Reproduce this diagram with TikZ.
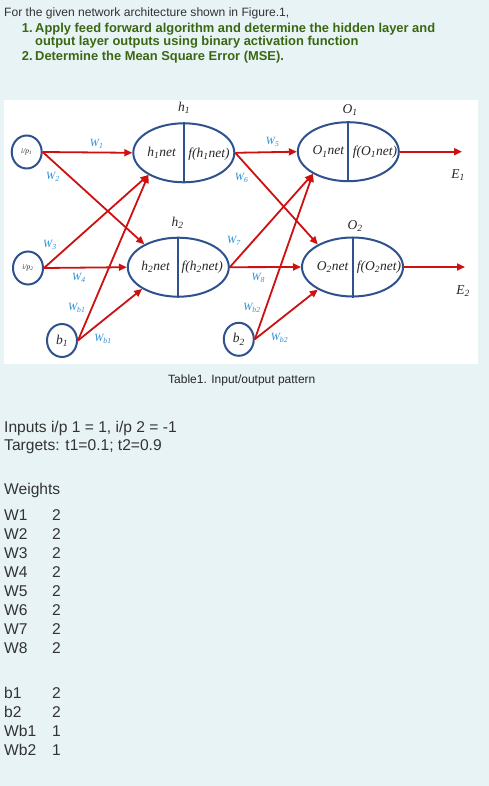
\documentclass[tikz,border=0pt]{standalone}
\usepackage{fontspec}
\setmainfont{Liberation Sans}
\newfontfamily\serifit{Liberation Serif}
\usetikzlibrary{shapes.geometric,arrows.meta}
\definecolor{bgblue}{RGB}{232,243,246}
\definecolor{nodeblue}{RGB}{47,82,143}
\definecolor{arrowred}{RGB}{205,16,16}
\definecolor{wblue}{RGB}{45,145,215}
\definecolor{hdgreen}{RGB}{58,104,18}
\definecolor{txtgray}{RGB}{51,51,51}
\begin{document}
\begin{tikzpicture}[x=1pt,y=-1pt,
  unit/.style={draw=nodeblue, line width=2pt, ellipse, minimum width=101pt, minimum height=59pt, inner sep=0pt},
  smallunit/.style={draw=nodeblue, line width=2pt, ellipse, minimum width=30pt, minimum height=33pt, inner sep=0pt},
  conn/.style={draw=arrowred, line width=1.8pt, -{Triangle[length=8pt,width=7pt]}},
  wlab/.style={text=wblue, font=\serifit\itshape\fontsize{11}{12}\selectfont, inner sep=0pt},
  ilab/.style={font=\serifit\itshape\fontsize{13.5}{15}\selectfont, inner sep=0pt, text=black!85},
  tinylab/.style={font=\serifit\itshape\fontsize{7.5}{9}\selectfont, inner sep=0pt, text=black!80},
  hdr/.style={anchor=base west, inner sep=0pt, text=txtgray, font=\fontsize{12.1}{14}\selectfont},
  hdb/.style={anchor=base west, inner sep=0pt, text=hdgreen, font=\bfseries\fontsize{12.9}{15}\selectfont},
  body/.style={anchor=base west, inner sep=0pt, text=txtgray, font=\fontsize{15.6}{18}\selectfont},
  divider/.style={draw=nodeblue, line width=2pt}
]
\useasboundingbox (0,0) rectangle (489,786);
\fill[bgblue] (0,0) rectangle (489,786);
\fill[white] (4,100) rectangle (478,363.5);

% header
\node[hdr] (t0) at (4,16.7) {For the given network architecture shown in Figure.1,};
\node[hdb] (n1) at (21.7,32.3) {1.};
\node[hdb] (t1) at (35,32.3) {Apply feed forward algorithm and determine the hidden layer and};
\node[hdb] (t2) at (35,45.7) {output layer outputs using binary activation function};
\node[hdb] (n2) at (21.7,60.7) {2.};
\node[hdb] (t3) at (35,60.7) {Determine the Mean Square Error (MSE).};

% nodes
\node[smallunit] (ip1) at (26.7,152) {};
\node[smallunit] (ip2) at (28,268) {};
\node[smallunit] (b1) at (62,340.5) {};
\node[smallunit] (b2) at (238.8,339.3) {};
\node[tinylab] (ip1t) at (ip1) {i/p\textsubscript{1}};
\node[tinylab] (ip2t) at (ip2) {i/p\textsubscript{2}};
\node[ilab] (b1t) at (b1) {b\textsubscript{1}};
\node[ilab] (b2t) at (b2) {b\textsubscript{2}};

\node[unit] (h1) at (183.8,152.8) {};
\node[unit] (h2) at (178.3,267.2) {};
\node[unit] (o1) at (348.3,151.7) {};
\node[unit] (o2) at (352.5,267) {};
\draw[divider] (h1.north) -- (h1.south);
\draw[divider] (h2.north) -- (h2.south);
\draw[divider] (o1.north) -- (o1.south);
\draw[divider] (o2.north) -- (o2.south);

\node[ilab] (h1a) at (161.7,153) {h\textsubscript{1}net};
\node[ilab] (h1b) at (209,154) {f(h\textsubscript{1}net)};
\node[ilab] (h2a) at (155.7,266.7) {h\textsubscript{2}net};
\node[ilab] (h2b) at (202.3,267.5) {f(h\textsubscript{2}net)};
\node[ilab] (o1a) at (328.3,151.5) {O\textsubscript{1}net};
\node[ilab] (o1b) at (375,152) {f(O\textsubscript{1}net)};
\node[ilab] (o2a) at (332.7,266.7) {O\textsubscript{2}net};
\node[ilab] (o2b) at (379,267.5) {f(O\textsubscript{2}net)};

\node[ilab] (h1l) at (184,108) {h\textsubscript{1}};
\node[ilab] (h2l) at (177.5,223) {h\textsubscript{2}};
\node[ilab] (o1l) at (350,110) {O\textsubscript{1}};
\node[ilab] (o2l) at (355,226) {O\textsubscript{2}};
\node[ilab] (e1) at (458,175) {E\textsubscript{1}};
\node[ilab] (e2) at (463,291) {E\textsubscript{2}};

\coordinate (out1) at (462,151.7);
\coordinate (out2) at (465,267);

% connectors
\draw[conn] (ip1.east) -- (h1.west);
\draw[conn] (ip1.east) -- (h2.146.5);
\draw[conn] (ip2.east) -- (h1.212);
\draw[conn] (ip2.east) -- (h2.west);
\draw[conn] (b1.east) -- (h1.212);
\draw[conn] (b1.east) -- (h2.211.6);
\draw[conn] (h1.east) -- (o1.west);
\draw[conn] (h1.east) -- (o2.147);
\draw[conn] (h2.east) -- (o1.212);
\draw[conn] (h2.east) -- (o2.west);
\draw[conn] (b2.east) -- (o1.212);
\draw[conn] (b2.east) -- (o2.213.7);
\draw[conn] (o1.east) -- (out1);
\draw[conn] (o2.east) -- (out2);

% weight labels
\node[wlab] (lw1) at (96.7,144) {W\textsubscript{1}};
\node[wlab] (lw2) at (53,177) {W\textsubscript{2}};
\node[wlab] (lw3) at (50,245) {W\textsubscript{3}};
\node[wlab] (lw4) at (79,278) {W\textsubscript{4}};
\node[wlab] (lwb1a) at (76.7,308) {W\textsubscript{b1}};
\node[wlab] (lwb1b) at (103,339) {W\textsubscript{b1}};
\node[wlab] (lw5) at (272.7,142) {W\textsubscript{5}};
\node[wlab] (lw6) at (241.7,178) {W\textsubscript{6}};
\node[wlab] (lw7) at (234,241) {W\textsubscript{7}};
\node[wlab] (lw8) at (258.3,278) {W\textsubscript{8}};
\node[wlab] (lwb2a) at (252,308) {W\textsubscript{b2}};
\node[wlab] (lwb2b) at (279.5,338) {W\textsubscript{b2}};

% caption
\node[anchor=base west, inner sep=0pt, text=black!85, font=\fontsize{12}{14}\selectfont] (cap) at (168,383) {Table1. Input/output pattern};

% body
\node[body] (inp) at (4,432.3) {Inputs i/p 1 = 1, i/p 2 = -1};
\node[body] (tgt) at (4,450.7) {Targets: t1=0.1; t2=0.9};
\node[body] (wts) at (4,494) {Weights};
\foreach \i in {1,...,8}{
  \node[body] (wn\i) at (4,{520.5+19*(\i-1)}) {W\i};
  \node[body] (wv\i) at (52,{520.5+19*(\i-1)}) {2};
}
\node[body] (bn1) at (4,698.3) {b1};
\node[body] (bv1) at (52,698.3) {2};
\node[body] (bn2) at (4,717.3) {b2};
\node[body] (bv2) at (52,717.3) {2};
\node[body] (bn3) at (4,736.3) {Wb1};
\node[body] (bv3) at (52,736.3) {1};
\node[body] (bn4) at (4,755.3) {Wb2};
\node[body] (bv4) at (52,755.3) {1};
\end{tikzpicture}
\end{document}
